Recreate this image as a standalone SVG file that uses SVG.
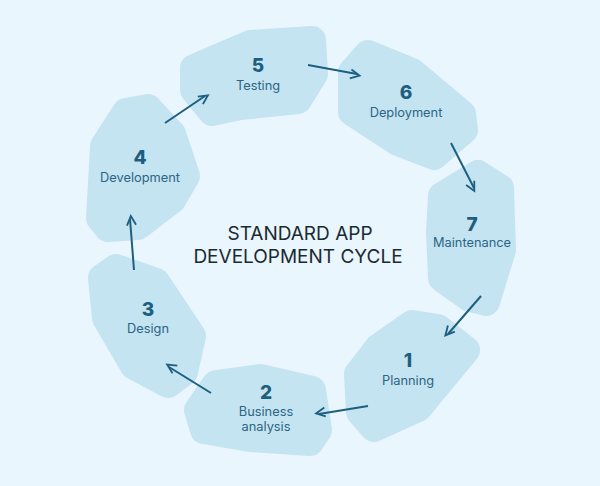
<svg xmlns="http://www.w3.org/2000/svg" width="600" height="486" viewBox="0 0 600 486">
<style>
.blob{fill:#C5E4F1;stroke:#C5E4F1;stroke-width:28;stroke-linejoin:round}
.num{font-family:Inter,"Liberation Sans",sans-serif;font-weight:800;font-size:19px;fill:#1D5F80;text-anchor:middle}
.lbl{font-family:Inter,"Liberation Sans",sans-serif;font-size:12.8px;fill:#2A6585;text-anchor:middle}
.title{font-family:Inter,"Liberation Sans",sans-serif;font-size:19px;fill:#1A2A33;text-anchor:middle}
.arr{fill:none;stroke:#1D5F80;stroke-width:2;marker-end:url(#ah)}
</style>
<defs><marker id="ah" viewBox="0 0 10 10" refX="9" refY="5" markerWidth="7" markerHeight="7" markerUnits="userSpaceOnUse" orient="auto" overflow="visible"><path d="M0,0 L10,5 L0,10" fill="none" stroke="#1D5F80" stroke-width="2" transform="scale(1.3)"/></marker></defs>
<rect width="600" height="486" fill="#EAF6FD"/>
<g id="n5"><polygon class="blob" points="194,68 250,44 312,40 314,74 298,100 240,106 212,112 194,90"/><text class="num" x="258" y="72">5</text><text class="lbl" x="258" y="90">Testing</text></g>
<g id="n6"><polygon class="blob" points="352,72 368,54 412,72 462,114 464,130 434,156 398,142 352,112"/><text class="num" x="406" y="99">6</text><text class="lbl" x="406" y="117">Deployment</text></g>
<g id="n7"><polygon class="blob" points="442,196 478,174 500,188 502,250 486,302 470,298 442,278 440,232"/><text class="num" x="472" y="231">7</text><text class="lbl" x="472" y="247">Maintenance</text></g>
<g id="n1"><polygon class="blob" points="358,374 378,348 412,324 438,328 466,350 418,408 374,428 360,412"/><text class="num" x="408" y="367">1</text><text class="lbl" x="408" y="385">Planning</text></g>
<g id="n2"><polygon class="blob" points="198,410 216,384 260,378 312,390 318,430 310,442 250,438 204,430"/><text class="num" x="266" y="399">2</text><text class="lbl" x="266" y="416">Business</text><text class="lbl" x="266" y="431">analysis</text></g>
<g id="n3"><polygon class="blob" points="102,278 116,268 156,282 192,336 184,372 168,384 134,366 106,318"/><text class="num" x="148" y="316">3</text><text class="lbl" x="148" y="333">Design</text></g>
<g id="n4"><polygon class="blob" points="100,218 104,146 126,112 148,108 172,134 186,176 172,200 138,226 108,228"/><text class="num" x="140" y="164">4</text><text class="lbl" x="140" y="182">Development</text></g>
<g id="center"><text class="title" x="300" y="240">STANDARD APP</text><text class="title" x="298" y="263">DEVELOPMENT CYCLE</text></g>
<g id="connectors">
<line class="arr" x1="308" y1="65" x2="357" y2="74"/>
<line class="arr" x1="451" y1="143" x2="474" y2="188"/>
<line class="arr" x1="481" y1="296" x2="448" y2="334"/>
<line class="arr" x1="368" y1="406" x2="319" y2="414"/>
<line class="arr" x1="211" y1="393" x2="169" y2="367"/>
<line class="arr" x1="134" y1="270" x2="130" y2="219"/>
<line class="arr" x1="165" y1="123" x2="205" y2="96"/>
</g>
</svg>
